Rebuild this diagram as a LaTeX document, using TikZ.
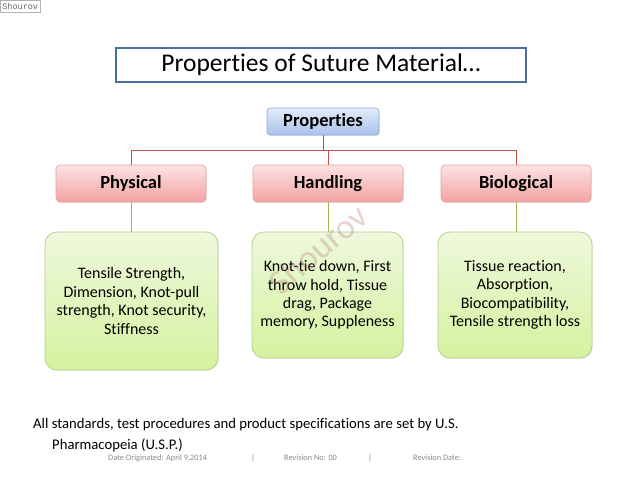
\documentclass[tikz,border=0pt]{standalone}
\usepackage{fontspec}
\setmainfont{Carlito}[Ligatures=NoCommon]
\newfontfamily\monofont{Liberation Mono}
\usetikzlibrary{shadows}
\definecolor{titleblue}{HTML}{4A6E9E}
\definecolor{propborder}{HTML}{8FAADC}
\definecolor{proptop}{HTML}{E3EBF9}
\definecolor{propbot}{HTML}{A9C2EC}
\definecolor{pinktop}{HTML}{FCE3E3}
\definecolor{pinkbot}{HTML}{F3A2A2}
\definecolor{pinkborder}{HTML}{E6A3A3}
\definecolor{greentop}{HTML}{EEF8DC}
\definecolor{greenbot}{HTML}{D5F29F}
\definecolor{greenborder}{HTML}{B4CE8C}
\definecolor{redline}{HTML}{C0504D}
\definecolor{greenline}{HTML}{9BBB59}
\definecolor{footgray}{HTML}{8A8A8A}
\definecolor{wmcolor}{HTML}{B07070}
\tikzset{
  titlebox/.style={draw=titleblue, line width=1.2pt, fill=white, minimum width=410pt, minimum height=34pt, inner sep=0pt, font=\fontsize{25.5}{28}\selectfont},
  topbox/.style={draw=propborder, line width=0.6pt, rounded corners=3pt, top color=proptop, bottom color=propbot, minimum width=112pt, minimum height=27pt, inner sep=0pt, font=\fontsize{18.5}{20}\selectfont\bfseries, drop shadow={opacity=0.15, shadow xshift=0.8pt, shadow yshift=-0.8pt}},
  catbox/.style={draw=pinkborder, line width=0.6pt, rounded corners=4pt, top color=pinktop, bottom color=pinkbot, minimum width=150pt, minimum height=37pt, inner sep=0pt, font=\fontsize{18.5}{20}\selectfont\bfseries, drop shadow={opacity=0.15, shadow xshift=0.8pt, shadow yshift=-0.8pt}},
  itembox/.style={draw=greenborder, line width=0.8pt, rounded corners=12pt, top color=greentop, bottom color=greenbot, inner sep=0pt, align=center, font=\fontsize{16}{18.4}\selectfont, drop shadow={opacity=0.15, shadow xshift=0.8pt, shadow yshift=-0.8pt}},
  redconn/.style={draw=redline, line width=1pt},
  greenconn/.style={draw=greenline, line width=1pt},
  foot/.style={text=footgray, inner sep=0pt, anchor=west, font=\fontsize{8.3}{10}\selectfont}
}
\begin{document}
\begin{tikzpicture}[x=1pt, y=-1pt]
\useasboundingbox[fill=white] (0,0) rectangle (638,493);
% tag
\node[draw=gray!60, line width=0.5pt, inner sep=0.5pt, anchor=north west, minimum width=40pt, minimum height=12pt, text=gray!80!black, font=\monofont\fontsize{8.5}{10}\selectfont] (tag) at (0,0) {Shourov};
% title
\node[titlebox] (title) at (321,65) {Properties of Suture Material…};
% nodes
\node[topbox] (prop) at (323,121.5) {Properties};
\node[catbox] (phys) at (131,183.5) {Physical};
\node[catbox] (hand) at (328,183.5) {Handling};
\node[catbox] (bio) at (516,183.5) {Biological};
\node[itembox, minimum width=173pt, minimum height=138pt] (g1) at (131.5,301) {Tensile Strength,\\Dimension, Knot-pull\\strength, Knot security,\\Stiffness};
\node[itembox, minimum width=151pt, minimum height=126pt] (g2) at (327.5,295) {Knot-tie down, First\\throw hold, Tissue\\drag, Package\\memory, Suppleness};
\node[itembox, minimum width=154pt, minimum height=126pt] (g3) at (515,295) {Tissue reaction,\\Absorption,\\Biocompatibility,\\Tensile strength loss};
% connectors
\coordinate (j) at (323,150);
\draw[redconn] (prop.south) -- (j);
\draw[redconn] (j) -| (phys.north);
\draw[redconn] (j) -| (bio.north);
\draw[redconn] (hand.north) -- (hand.north |- j);
\draw[greenconn] (phys.south) -- (phys.south |- g1.north);
\draw[greenconn] (hand.south) -- (hand.south |- g2.north);
\draw[greenconn] (bio.south) -- (bio.south |- g3.north);
% watermark
\node[rotate=41, text=wmcolor, text opacity=0.3, font=\fontsize{35}{38}\selectfont] (wm) at (318,249) {Shourov};
% bottom text
\node[anchor=base west, inner sep=0pt, font=\fontsize{14.7}{18}\selectfont] (note1) at (33,428) {All standards, test procedures and product specifications are set by U.S.};
\node[anchor=base west, inner sep=0pt, font=\fontsize{14.7}{18}\selectfont] (note2) at (52,449) {Pharmacopeia (U.S.P.)};
% footer
\node[foot] (f1) at (108,458) {Date Originated: April 9,2014};
\node[foot] (f2) at (251,458) {|};
\node[foot] (f3) at (284,458) {Revision No: 00};
\node[foot] (f4) at (368,458) {|};
\node[foot] (f5) at (413,458) {Revision Date:};
\end{tikzpicture}
\end{document}
